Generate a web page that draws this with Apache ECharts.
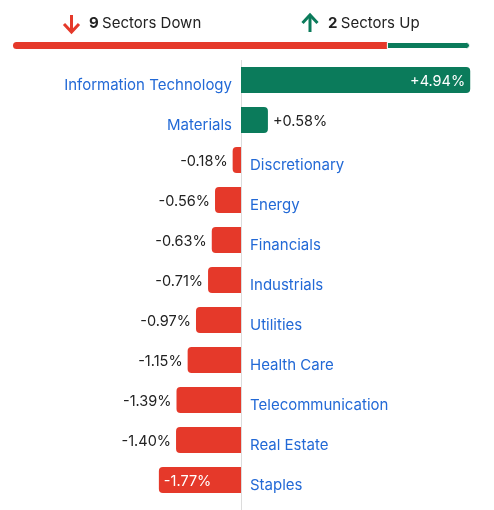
<!DOCTYPE html>
<html>
<head>
<meta charset="utf-8">
<script src="https://cdn.jsdelivr.net/npm/echarts@6/dist/echarts.min.js"></script>
<style>
  html, body { margin: 0; padding: 0; background: #fff; }
  #chart { width: 494px; height: 510px; }
</style>
</head>
<body>
<div id="chart"></div>
<script>
// sector performance
const sectors = ['Information Technology', 'Materials', 'Discretionary', 'Energy', 'Financials',
    'Industrials', 'Utilities', 'Health Care', 'Telecommunication', 'Real Estate', 'Staples'];
const changes = [4.94, 0.58, -0.18, -0.56, -0.63, -0.71, -0.97, -1.15, -1.39, -1.40, -1.77];

const RED = '#e5392a';
const GREEN = '#0b7b5b';
const BLUE = '#2269d6';
const FONT = 'Inter, Roboto, sans-serif';

const downCount = changes.filter(v => v < 0).length;
const upCount = changes.filter(v => v > 0).length;
const maxVal = Math.max(...changes);
const minVal = Math.min(...changes);

const fmt = v => (v > 0 ? '+' : '') + v.toFixed(2) + '%';

const chart = echarts.init(document.getElementById('chart'));

// bars with value labels
const barData = changes.map(v => {
    const inside = v === maxVal || v === minVal;
    return {
        value: v,
        itemStyle: {
            color: v >= 0 ? GREEN : RED,
            borderRadius: v >= 0 ? [0, 4, 4, 0] : [4, 0, 0, 4]
        },
        label: {
            show: true,
            position: inside ? (v >= 0 ? 'insideRight' : 'insideLeft') : (v >= 0 ? 'right' : 'left'),
            distance: 5,
            offset: [0, 2],
            color: inside ? '#fff' : '#222',
            fontSize: 14.5,
            fontFamily: FONT,
            formatter: fmt(v)
        }
    };
});

// category names sit on the opposite side of the zero line
const nameData = changes.map((v, i) => ({
    value: 0,
    label: {
        show: true,
        position: v >= 0 ? 'left' : 'right',
        distance: 9,
        offset: [0, 5],
        color: BLUE,
        fontSize: 15,
        fontFamily: FONT,
        formatter: sectors[i]
    }
}));

// header arrow drawn as a stem plus chevron
function arrow(cx, up, color) {
    const top = 15, bottom = 32;
    const tip = up ? top : bottom;
    const arm = up ? tip + 8 : tip - 8;
    return {
        type: 'group',
        children: [
            { type: 'line', shape: { x1: cx, y1: top + (up ? 1 : 0), x2: cx, y2: bottom - (up ? 0 : 1) },
              style: { stroke: color, lineWidth: 3 } },
            { type: 'polyline', shape: { points: [[cx - 7.5, arm], [cx, tip], [cx + 7.5, arm]] },
              style: { stroke: color, lineWidth: 3, fill: null, lineJoin: 'miter' } }
        ]
    };
}

const headerRich = {
    b: { fill: '#222', fontSize: 15, fontWeight: 'bold', fontFamily: FONT },
    c: { fill: '#222', fontSize: 15, fontFamily: FONT }
};

chart.setOption({
    animation: false,
    textStyle: { fontFamily: FONT },
    grid: [
        { left: 9, right: 21, top: 60, bottom: 10 },
        { left: 13, right: 24, top: 42, height: 7 }
    ],
    xAxis: [
        { gridIndex: 0, type: 'value', min: -5, max: 5, show: false },
        { gridIndex: 1, type: 'value', min: 0, max: downCount + upCount, show: false }
    ],
    yAxis: [
        {
            gridIndex: 0, type: 'category', data: sectors, inverse: true,
            axisLine: { show: false }, axisTick: { show: false }, axisLabel: { show: false }
        },
        { gridIndex: 1, type: 'category', data: ['count'], show: false }
    ],
    graphic: [
        {
            type: 'line', z: 0,
            shape: { x1: 241.5, y1: 60, x2: 241.5, y2: 510 },
            style: { stroke: '#dcdcdc', lineWidth: 1 }
        },
        arrow(71.5, false, RED),
        arrow(310, true, GREEN),
        {
            type: 'text', left: 89, top: 16,
            style: { text: '{b|' + downCount + '} {c|Sectors Down}', rich: headerRich }
        },
        {
            type: 'text', left: 328, top: 16,
            style: { text: '{b|' + upCount + '} {c|Sectors Up}', rich: headerRich }
        }
    ],
    series: [
        {
            type: 'bar', xAxisIndex: 0, yAxisIndex: 0,
            data: barData, barWidth: 26, z: 3
        },
        {
            type: 'bar', xAxisIndex: 0, yAxisIndex: 0,
            data: nameData, barWidth: 26, barGap: '-100%', z: 4,
            itemStyle: { color: 'transparent' }, silent: true
        },
        {
            type: 'bar', xAxisIndex: 1, yAxisIndex: 1, stack: 'ratio',
            data: [downCount], barWidth: 7,
            itemStyle: { color: RED, borderRadius: [3.5, 0, 0, 3.5] }
        },
        {
            type: 'bar', xAxisIndex: 1, yAxisIndex: 1, stack: 'ratio',
            data: [upCount], barWidth: 7,
            itemStyle: { color: GREEN, borderRadius: [0, 3.5, 3.5, 0], borderColor: '#fff', borderWidth: 1 }
        }
    ]
});
</script>
</body>
</html>
